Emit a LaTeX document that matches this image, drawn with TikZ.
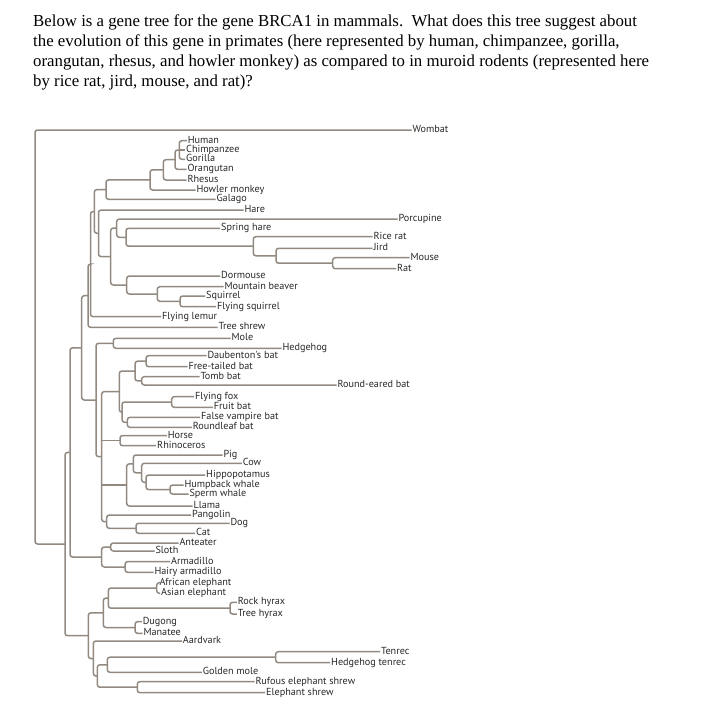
\documentclass[tikz,border=0pt]{standalone}
\usepackage{fontspec}
\setmainfont{Liberation Serif}
\newfontfamily\treefont{PT Sans}
\usetikzlibrary{calc}

\definecolor{branch}{RGB}{146,137,129}
\definecolor{tiptext}{RGB}{40,40,40}

\begin{document}
\begin{tikzpicture}[
  x=1pt, y=-1pt,
  leaf/.style = {anchor=west, inner xsep=0.8pt, inner ysep=0pt,
                 text height=7pt, text depth=2pt, text=tiptext,
                 font=\treefont\fontsize{10.2}{11}\selectfont},
  br/.style   = {draw=branch, line width=1.5pt, rounded corners=2.6pt},
]
\useasboundingbox (0,0) rectangle (711,725);

% ── QUESTION ────────────────────────────────────────────────────────────────
\node[anchor=north west, inner sep=0pt, align=left,
      font=\fontsize{16.8}{20}\selectfont] (question) at (33,14.5)
  {Below is a gene tree for the gene BRCA1 in mammals.\ \ What does this tree suggest about\\
   the evolution of this gene in primates (here represented by human, chimpanzee, gorilla,\\
   orangutan, rhesus, and howler monkey) as compared to in muroid rodents (represented here\\
   by rice rat, jird, mouse, and rat)?};

% ── TIPS ────────────────────────────────────────────────────────────────────
\node[leaf] (wombat)      at (411.5,130)   {Wombat};
\node[leaf] (human)       at (186.8,140.7) {Human};
\node[leaf] (chimp)       at (185.2,150)   {Chimpanzee};
\node[leaf] (gorilla)     at (185.2,159.3) {Gorilla};
\node[leaf] (orangutan)   at (186.5,169.3) {Orangutan};
\node[leaf] (rhesus)      at (186.5,180)   {Rhesus};
\node[leaf] (howler)      at (195.5,190)   {Howler monkey};
\node[leaf] (galago)      at (215.5,199.3) {Galago};
\node[leaf] (hare)        at (243.5,210)   {Hare};
\node[leaf] (porcupine)   at (397.5,219)   {Porcupine};
\node[leaf] (springhare)  at (220.2,228.3) {Spring hare};
\node[leaf] (ricerat)     at (372.5,236.7) {Rice rat};
\node[leaf] (jird)        at (372.5,248.3) {Jird};
\node[leaf] (mouse)       at (409.5,257.7) {Mouse};
\node[leaf] (rat)         at (396.2,268.7) {Rat};
\node[leaf] (dormouse)    at (220.2,276)   {Dormouse};
\node[leaf] (mtnbeaver)   at (223.5,286.7) {Mountain beaver};
\node[leaf] (squirrel)    at (205.2,296)   {Squirrel};
\node[leaf] (flysquirrel) at (216.2,306.7) {Flying squirrel};
\node[leaf] (flylemur)    at (161.2,316.7) {Flying lemur};
\node[leaf] (treeshrew)   at (217.5,327.3) {Tree shrew};
\node[leaf] (mole)        at (230.5,338.3) {Mole};
\node[leaf] (hedgehog)    at (281.5,348.3) {Hedgehog};
\node[leaf] (daubenton)   at (206.5,355.7) {Daubenton's bat};
\node[leaf] (freetail)    at (187.5,366.7) {Free-tailed bat};
\node[leaf] (tombbat)     at (199.5,376.7) {Tomb bat};
\node[leaf] (roundeared)  at (336.5,385)   {Round-eared bat};
\node[leaf] (flyfox)      at (194.2,396.7) {Flying fox};
\node[leaf] (fruitbat)    at (212.8,407.3) {Fruit bat};
\node[leaf] (falsevamp)   at (200.2,417.3) {False vampire bat};
\node[leaf] (roundleaf)   at (191.8,427.3) {Roundleaf bat};
\node[leaf] (horse)       at (166.8,435.5) {Horse};
\node[leaf] (rhino)       at (156.2,445.7) {Rhinoceros};
\node[leaf] (pig)         at (222.5,455)   {Pig};
\node[leaf] (cow)         at (241.8,463.3) {Cow};
\node[leaf] (hippo)       at (205.2,475)   {Hippopotamus};
\node[leaf] (humpback)    at (183.5,485)   {Humpback whale};
\node[leaf] (sperm)       at (188.5,494)   {Sperm whale};
\node[leaf] (llama)       at (192.5,506)   {Llama};
\node[leaf] (pangolin)    at (191.2,515)   {Pangolin};
\node[leaf] (dog)         at (229.5,523.3) {Dog};
\node[leaf] (cat)         at (195.2,533.3) {Cat};
\node[leaf] (anteater)    at (178.5,543)   {Anteater};
\node[leaf] (sloth)       at (154.5,551)   {Sloth};
\node[leaf] (armadillo)   at (170.2,561.7) {Armadillo};
\node[leaf] (hairyarm)    at (153.5,572.3) {Hairy armadillo};
\node[leaf] (afeleph)     at (158.5,582.7) {African elephant};
\node[leaf] (aseleph)     at (160.2,593.3) {Asian elephant};
\node[leaf] (rockhyrax)   at (236.8,602.3) {Rock hyrax};
\node[leaf] (treehyrax)   at (236.8,614)   {Tree hyrax};
\node[leaf] (dugong)      at (141.8,621.7) {Dugong};
\node[leaf] (manatee)     at (142.5,633.3) {Manatee};
\node[leaf] (aardvark)    at (181.8,641)   {Aardvark};
\node[leaf] (tenrec)      at (380.2,651.7) {Tenrec};
\node[leaf] (hhtenrec)    at (330.2,662.7) {Hedgehog tenrec};
\node[leaf] (goldenmole)  at (201.8,672.3) {Golden mole};
\node[leaf] (rufous)      at (254.5,681.7) {Rufous elephant shrew};
\node[leaf] (eleshrew)    at (265.2,692.7) {Elephant shrew};

% ── INNER NODES ─────────────────────────────────────────────────────────────
\coordinate (hcg)     at (179.3,150);
\coordinate (ogn)     at (175,159.7);
\coordinate (rhn)     at (163.3,169.8);
\coordinate (hwn)     at (150,179.9);
\coordinate (prim)    at (106,189.6);
\coordinate (mr)      at (332.7,263.2);
\coordinate (jmr)     at (276,255.8);
\coordinate (muroid)  at (253.3,246.2);
\coordinate (shn)     at (126,237.3);
\coordinate (pcn)     at (116.7,228.1);
\coordinate (sqn)     at (180,301.3);
\coordinate (mbn)     at (157.3,294);
\coordinate (dmn)     at (126.7,285);
\coordinate (rodent)  at (110.7,256.6);
\coordinate (glires)  at (98.5,233.3);
\coordinate (eag)     at (94.3,211.5);
\coordinate (fln)     at (90.5,264.1);
\coordinate (euarch)  at (88,295.7);
\coordinate (eulip)   at (113.3,343.3);
\coordinate (dfn)     at (146,361.2);
\coordinate (trn)     at (141.7,380.9);
\coordinate (yango)   at (135,371);
\coordinate (ptero)   at (171.7,402);
\coordinate (rhinol)  at (127.3,422.3);
\coordinate (yinpt)   at (122,412.2);
\coordinate (chiro)   at (119.3,391.6);
\coordinate (periss)  at (120,440.6);
\coordinate (cetacea) at (170,489.5);
\coordinate (hipn)    at (146,482.3);
\coordinate (cown)    at (141.7,472.8);
\coordinate (pign)    at (133.3,463.9);
\coordinate (cetart)  at (126.7,485);
\coordinate (carniv)  at (136,528.3);
\coordinate (ferae)   at (106.7,521.7);
\coordinate (scrot)   at (101.7,456.6);
\coordinate (laur)    at (96,400);
\coordinate (boreo)   at (81.7,347.8);
\coordinate (antsl)   at (110.7,547);
\coordinate (armn)    at (125,567);
\coordinate (xenar)   at (101.7,557);
\coordinate (exn)     at (70,452.4);
\coordinate (eleph)   at (156.7,588);
\coordinate (hyrax)   at (230,608.2);
\coordinate (ehn)     at (108.3,598.1);
\coordinate (siren)   at (135,627.5);
\coordinate (paen)    at (103.3,612.8);
\coordinate (tenn)    at (275.7,657.2);
\coordinate (tgn)     at (107.3,664.8);
\coordinate (esn)     at (137.3,687.2);
\coordinate (afins)   at (97.3,676);
\coordinate (aan)     at (93.3,658.5);
\coordinate (afro)    at (88.3,635.7);
\coordinate (placent) at (65,544);
\coordinate (root)    at (35,337);

% ── BRANCHES ────────────────────────────────────────────────────────────────
\draw[br] (wombat.west) -| (root) |- (placent);

% primates
\draw[br] (human.west) -| (hcg) |- (gorilla.west);
\draw[br] (hcg) -- (chimp.west);
\draw[br] (hcg) -| (ogn) |- (orangutan.west);
\draw[br] (ogn) -| (rhn) |- (rhesus.west);
\draw[br] (rhn) -| (hwn) |- (howler.west);
\draw[br] (hwn) -| (prim) |- (galago.west);
\draw[br] (prim) -| (eag) |- (glires);

% glires
\draw[br] (hare.west) -| (glires) |- (rodent);
\draw[br] (pcn) -| (rodent) |- (dmn);
\draw[br] (porcupine.west) -| (pcn) |- (shn);
\draw[br] (springhare.west) -| (shn) |- (muroid);
\draw[br] (ricerat.west) -| (muroid) |- (jmr);
\draw[br] (jird.west) -| (jmr) |- (mr);
\draw[br] (mouse.west) -| (mr) |- (rat.west);
\draw[br] (dormouse.west) -| (dmn) |- (mbn);
\draw[br] (mtnbeaver.west) -| (mbn) |- (sqn);
\draw[br] (squirrel.west) -| (sqn) |- (flysquirrel.west);
\draw[br] (eag) -| (fln) |- (flylemur.west);
\draw[br] (fln) -| (euarch) |- (treeshrew.west);
\draw[br] (euarch) -| (boreo) |- (laur);

% laurasiatheria
\draw[br] (eulip) -| (laur) |- (scrot);
\draw[br] (mole.west) -| (eulip) |- (hedgehog.west);
\draw[br] (chiro) -| (scrot) |- (ferae);
\draw[br] (periss -| scrot) -- (periss);
\draw[br] (cetart -| scrot) -- (cetart);
\draw[br] (yango) -| (chiro) |- (yinpt);
\draw[br] (dfn) -| (yango) |- (trn);
\draw[br] (daubenton.west) -| (dfn) |- (freetail.west);
\draw[br] (tombbat.west) -| (trn) |- (roundeared.west);
\draw[br] (ptero) -| (yinpt) |- (rhinol);
\draw[br] (flyfox.west) -| (ptero) |- (fruitbat.west);
\draw[br] (falsevamp.west) -| (rhinol) |- (roundleaf.west);
\draw[br] (horse.west) -| (periss) |- (rhino.west);
\draw[br] (pign) -| (cetart) |- (llama.west);
\draw[br] (pig.west) -| (pign) |- (cown);
\draw[br] (cow.west) -| (cown) |- (hipn);
\draw[br] (hippo.west) -| (hipn) |- (cetacea);
\draw[br] (humpback.west) -| (cetacea) |- (sperm.west);
\draw[br] (pangolin.west) -| (ferae) |- (carniv);
\draw[br] (dog.west) -| (carniv) |- (cat.west);

% xenarthra
\draw[br] (boreo) -| (exn) |- (xenar);
\draw[br] (antsl) -| (xenar) |- (armn);
\draw[br] (anteater.west) -| (antsl) |- (sloth.west);
\draw[br] (armadillo.west) -| (armn) |- (hairyarm.west);

% afrotheria
\draw[br] (exn) -| (placent) |- (afro);
\draw[br] (paen) -| (afro) |- (aan);
\draw[br] (ehn) -| (paen) |- (siren);
\draw[br] (eleph) -| (ehn) |- (hyrax);
\draw[br] (afeleph.west) -| (eleph) |- (aseleph.west);
\draw[br] (rockhyrax.west) -| (hyrax) |- (treehyrax.west);
\draw[br] (dugong.west) -| (siren) |- (manatee.west);
\draw[br] (aardvark.west) -| (aan) |- (afins);
\draw[br] (tgn) -| (afins) |- (esn);
\draw[br] (tenn) -| (tgn) |- (goldenmole.west);
\draw[br] (tenrec.west) -| (tenn) |- (hhtenrec.west);
\draw[br] (rufous.west) -| (esn) |- (eleshrew.west);

\end{tikzpicture}
\end{document}
